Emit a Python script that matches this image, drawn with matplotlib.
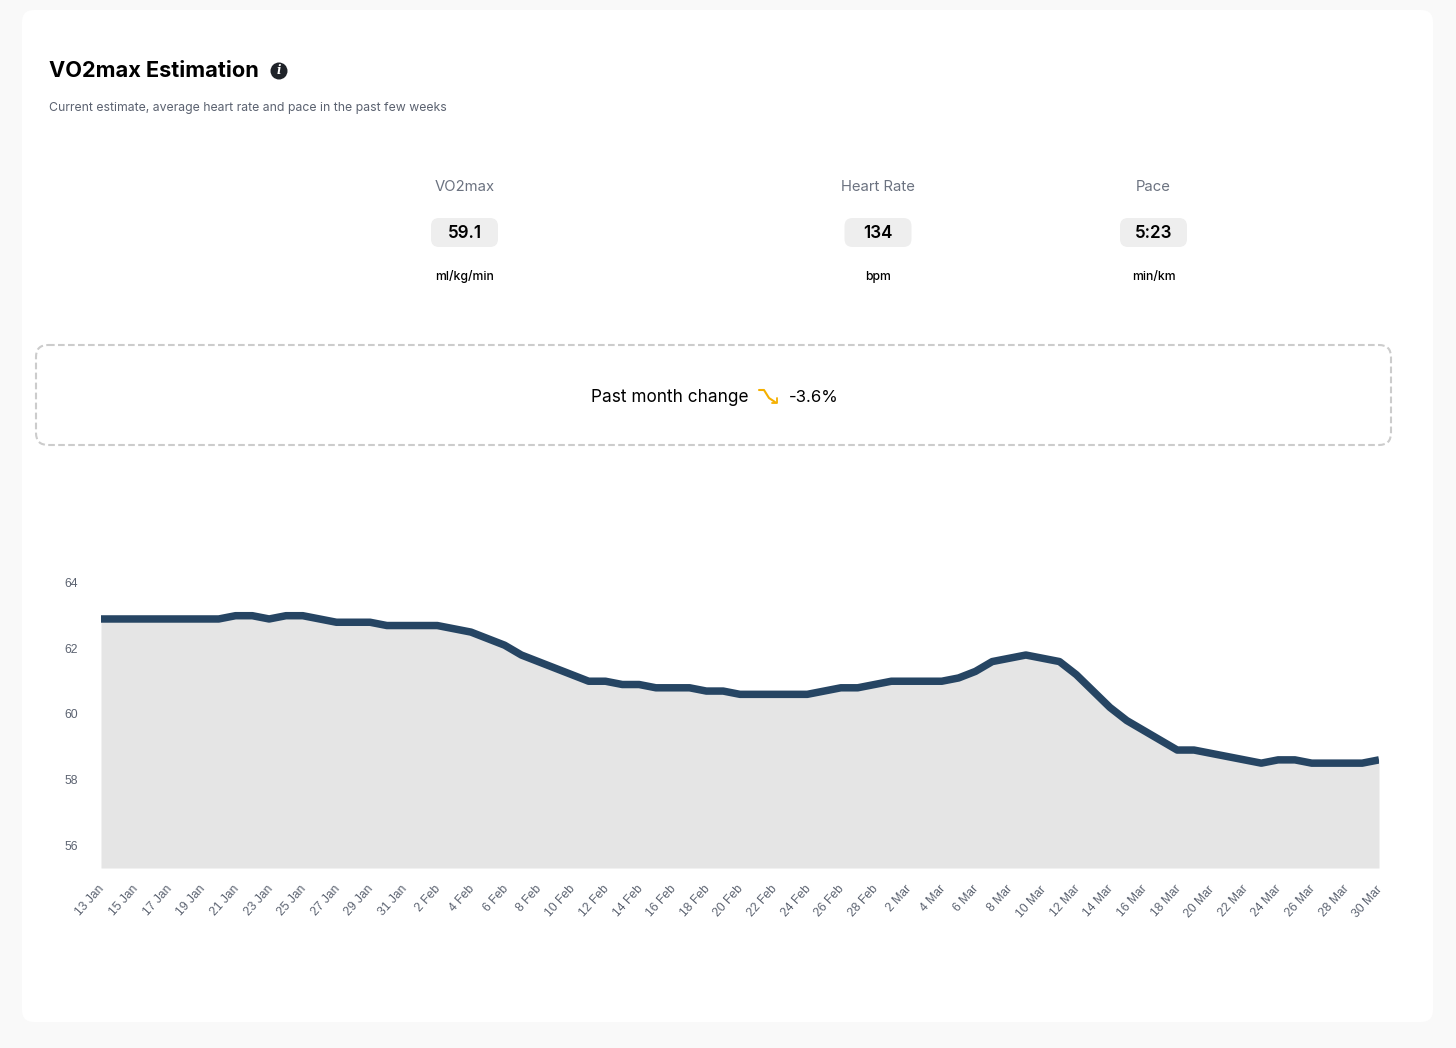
#!/usr/bin/env python3
import matplotlib
matplotlib.use('Agg')
import matplotlib.pyplot as plt
from matplotlib.patches import FancyBboxPatch, Circle
from matplotlib.ticker import FixedLocator, FixedFormatter
from matplotlib.transforms import ScaledTranslation

W, H = 1456, 1048

# one value per day, 13 Jan to 30 Mar
jan = [62.9, 62.9, 62.9, 62.9, 62.9, 62.9, 62.9, 62.9, 63.0, 63.0,
       62.9, 63.0, 63.0, 62.9, 62.8, 62.8, 62.8, 62.7, 62.7]
feb = [62.7, 62.7, 62.6, 62.5, 62.3, 62.1, 61.8, 61.6, 61.4, 61.2,
       61.0, 61.0, 60.9, 60.9, 60.8, 60.8, 60.8, 60.7, 60.7, 60.6,
       60.6, 60.6, 60.6, 60.6, 60.7, 60.8, 60.8, 60.9]
mar = [61.0, 61.0, 61.0, 61.0, 61.1, 61.3, 61.6, 61.7, 61.8, 61.7,
       61.6, 61.2, 60.7, 60.2, 59.8, 59.5, 59.2, 58.9, 58.9, 58.8,
       58.7, 58.6, 58.5, 58.6, 58.6, 58.5, 58.5, 58.5, 58.5, 58.6]
vo2 = jan + feb + mar
days = list(range(len(vo2)))

month_days = [('Jan', 13, 31), ('Feb', 1, 28), ('Mar', 1, 30)]
day_labels = []
for name, first, last in month_days:
    for d in range(first, last + 1):
        day_labels.append(f'{d} {name}')
tick_days = days[::2]
tick_labels = day_labels[::2]

y_ticks = [56, 58, 60, 62, 64]

stat_names = ['VO2max', 'Heart Rate', 'Pace']
stat_values = ['59.1', '134', '5:23']
stat_units = ['ml/kg/min', 'bpm', 'min/km']
stat_x = [464.5, 878, 1153.5]

fig = plt.figure(figsize=(W/100, H/100), dpi=100, facecolor='#f9f9f9')

# page furniture, in pixel coordinates
bg = fig.add_axes([0, 0, 1, 1])
bg.set_xlim(0, W)
bg.set_ylim(H, 0)
bg.axis('off')


def box(x0, y0, x1, y1, r, **kw):
    bg.add_patch(FancyBboxPatch((x0 + r, y0 + r), x1 - x0 - 2*r, y1 - y0 - 2*r,
                                boxstyle=f'round,pad={r},rounding_size={r}', **kw))


UI = ['Inter', 'DejaVu Sans']
box(22, 10, 1433, 1022, 12, fc='white', ec='none')

bg.text(49, 77, 'VO2max Estimation', fontsize=15.65, fontweight='bold',
        family=UI, color='black', va='baseline')
bg.add_patch(Circle((279, 71), 8.5, fc='#1f2329', ec='none'))
bg.text(279, 71, 'i', fontsize=8.5, fontweight='bold', style='italic', color='white',
        family=['DejaVu Serif'], ha='center', va='center')
bg.text(49, 111.5, 'Current estimate, average heart rate and pace in the past few weeks',
        fontsize=8.82, family=UI, color='#5b6270', va='baseline')

for x, name, value, unit in zip(stat_x, stat_names, stat_values, stat_units):
    bg.text(x, 191, name, fontsize=10.7, family=UI, color='#6b7280',
            ha='center', va='baseline')
    box(x - 33.5, 218, x + 33.5, 247, 8, fc='#eeeeee', ec='none')
    bg.text(x, 238.5, value, fontsize=12.3, fontweight='semibold', family=UI,
            color='black', ha='center', va='baseline')
    bg.text(x, 280, unit, fontsize=8.8, fontweight='medium', family=UI,
            color='black', ha='center', va='baseline')

box(36, 345, 1391, 445, 12, fc='none', ec='#cccccc', lw=1.5, ls=(0, (3.2, 1.6)))
bg.text(591, 401.5, 'Past month change', fontsize=12.4, family=UI, color='black', va='baseline')
bg.text(788.5, 401.5, '-3.6%', fontsize=12.1, family=UI, color='black', va='baseline')
# little trending-down arrow
bg.plot([759, 764, 769, 775], [390, 390, 398, 402], color='#f5b000', lw=1.5,
        solid_capstyle='round', solid_joinstyle='round')
bg.plot([772, 776.5, 776.5], [402.5, 402.5, 398], color='#f5b000', lw=1.3,
        solid_capstyle='round', solid_joinstyle='round')

# the chart itself
ax = fig.add_axes([101/W, 1 - 868/H, (1379 - 101)/W, (868 - 560)/H])
ax.patch.set_alpha(0)
ax.set_xlim(0, len(vo2) - 1)
ax.set_ylim(55.3, 64.7)
ax.fill_between(days, vo2, 55.3, color='#e5e5e5', lw=0)
ax.plot(days, vo2, color='#264563', lw=5.4, solid_capstyle='butt', solid_joinstyle='round')
for s in ax.spines.values():
    s.set_visible(False)
ax.yaxis.set_major_locator(FixedLocator(y_ticks))
ax.xaxis.set_major_locator(FixedLocator(tick_days))
ax.xaxis.set_major_formatter(FixedFormatter(tick_labels))
ax.tick_params(axis='both', length=0, labelcolor='#5b6270', labelsize=8.7)
ax.tick_params(axis='x', pad=11)
ax.tick_params(axis='y', pad=16.5)
for t in ax.get_yticklabels() + ax.get_xticklabels():
    t.set_family('Liberation Sans')
plt.setp(ax.get_xticklabels(), rotation=48, ha='right', va='top', rotation_mode='anchor')
shift = ScaledTranslation(-3/100, 0, fig.dpi_scale_trans)
for t in ax.get_xticklabels():
    t.set_transform(t.get_transform() + shift)

fig.savefig('out.png', dpi=100, facecolor=fig.get_facecolor())
